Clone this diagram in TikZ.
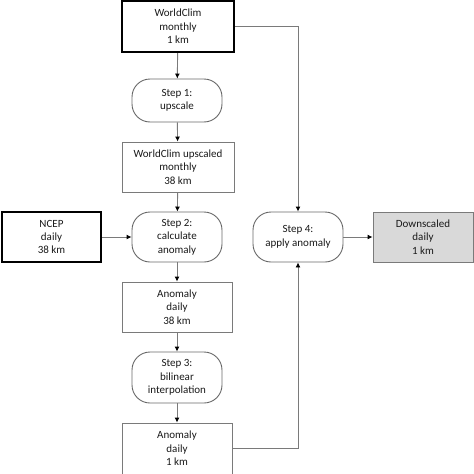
\documentclass[tikz,border=0pt]{standalone}
\usepackage{fontspec}
\setmainfont{Carlito}
\usetikzlibrary{arrows.meta}
\definecolor{ln}{HTML}{7A7A7A}
\definecolor{fillg}{HTML}{D9D9D9}
\begin{document}
\begin{tikzpicture}[x=1pt,y=-1pt,
  base/.style={draw=ln,line width=0.9pt,align=center,inner sep=1pt,
    font=\fontsize{11}{13.4}\selectfont,text=black!90},
  srcbox/.style={base,draw=black,line width=2.2pt},
  databox/.style={base},
  procbox/.style={base,draw=ln!85!black,rounded corners=18pt},
  outbox/.style={base,fill=fillg},
  conn/.style={draw=ln,line width=0.9pt,-{Latex[length=5pt,width=5pt,color=black]}}]
\useasboundingbox (0,0) rectangle (474,474);
\node[srcbox,minimum width=112,minimum height=51] (wc) at (178,26.5) {WorldClim\\monthly\\1 km};
\node[procbox,minimum width=90,minimum height=43] (s1) at (177,100.5) {Step 1:\\upscale};
\node[databox,minimum width=112,minimum height=50] (wcu) at (178,167) {WorldClim upscaled\\monthly\\38 km};
\node[procbox,minimum width=90,minimum height=50] (s2) at (177,237) {Step 2:\\calculate\\anomaly};
\node[srcbox,minimum width=99,minimum height=50] (ncep) at (51.5,237) {NCEP\\daily\\38 km};
\node[databox,minimum width=110,minimum height=50] (an38) at (177,307) {Anomaly\\daily\\38 km};
\node[procbox,minimum width=90,minimum height=51] (s3) at (177,377.5) {Step 3:\\bilinear\\interpolation};
\node[databox,minimum width=110,minimum height=51] (an1) at (177,448.5) {Anomaly\\daily\\1 km};
\node[procbox,minimum width=90,minimum height=50] (s4) at (298,237) {Step 4:\\apply anomaly};
\node[outbox,minimum width=100,minimum height=50] (ds) at (423,237) {Downscaled\\daily\\1 km};
\draw[conn] (wc) -- (s1);
\draw[conn] (s1) -- (wcu);
\draw[conn] (wcu) -- (s2);
\draw[conn] (ncep) -- (s2);
\draw[conn] (s2) -- (an38);
\draw[conn] (an38) -- (s3);
\draw[conn] (s3) -- (an1);
\draw[conn] (wc.east) -| (s4.north);
\draw[conn] (an1.east) -| (s4.south);
\draw[conn] (s4) -- (ds);
\end{tikzpicture}
\end{document}
